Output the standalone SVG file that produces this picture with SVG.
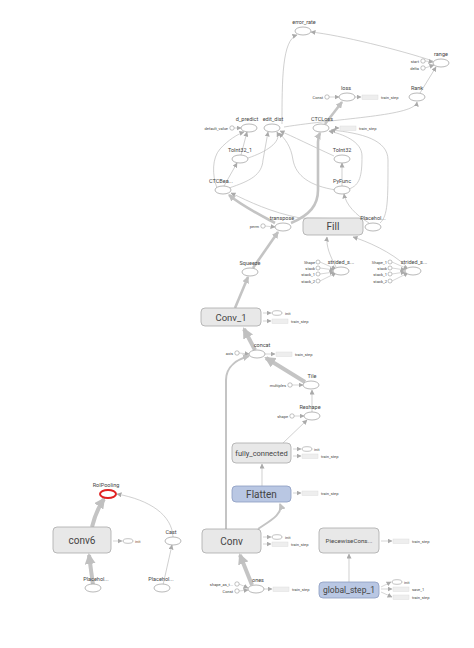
<svg xmlns="http://www.w3.org/2000/svg" width="474" height="648" viewBox="0 0 474 648">
<defs>
<marker id="a" markerUnits="userSpaceOnUse" markerWidth="5" markerHeight="5" refX="4.5" refY="2.5" orient="auto"><path d="M0,0 L5,2.5 L0,5 Z" fill="#aaa"/></marker>
<marker id="aT" markerUnits="userSpaceOnUse" markerWidth="11" markerHeight="11" refX="9" refY="5.5" orient="auto"><path d="M0,0 L11,5.5 L0,11 Z" fill="#c0c0c0"/></marker>
<marker id="aM" markerUnits="userSpaceOnUse" markerWidth="7" markerHeight="7" refX="6" refY="3.5" orient="auto"><path d="M0,0 L7,3.5 L0,7 Z" fill="#c0c0c0"/></marker>
</defs>
<style>
text{font-family:Roboto,"Liberation Sans",sans-serif;fill:#444}
.l{font-size:5.5px;text-anchor:middle}
.s{font-size:4px}
.sr{font-size:4px;text-anchor:end}
.b{text-anchor:middle;dominant-baseline:central}
.op{fill:#fff;stroke:#999;stroke-width:0.7}
.c{fill:#fff;stroke:#999;stroke-width:0.6}
.box{fill:#e8e8e8;stroke:#aaa;stroke-width:0.8}
.blue{fill:#b9c7e3;stroke:#8c9cc0;stroke-width:0.8}
.ts{fill:#eee;stroke:#ddd;stroke-width:0.5}
.e{fill:none;stroke:#bbb;stroke-width:0.7;marker-end:url(#a)}
.m{fill:none;stroke:#c4c4c4;stroke-width:2;marker-end:url(#aM)}
.t{fill:none;stroke:#c4c4c4;stroke-width:2.6;marker-end:url(#aM)}
.T{fill:none;stroke:#c4c4c4;stroke-width:4;marker-end:url(#aT)}
.x{fill:none;stroke:#bbb;stroke-width:0.6;marker-end:url(#a)}
</style>
<rect width="474" height="648" fill="#fff"/>

<g id="connectors">
<path class="e" d="M433,61 C400,50 340,35 311,32"/>
<path class="e" d="M282,124 C282,80 282,40 297,35"/>
<path class="e" d="M420,93 L436,67"/>
<path class="e" d="M284,127 C340,118 415,116 417,102"/>
<path class="x" d="M425,61 L433,62"/>
<path class="x" d="M425,68 L434,65"/>
<path class="x" d="M329,97 L339,97"/>
<path class="x" d="M355,97 L361,97"/>
<path class="x" d="M234,128 L241,128"/>
<path class="x" d="M335,128 L339,128"/>
<path class="e" d="M241,155 L247,132"/>
<path class="e" d="M224,186 L237,163"/>
<path class="e" d="M217,188 C212,175 212,158 220,149 C228,140 238,134 244,132"/>
<path class="e" d="M229,188 C250,181 262,175 263,160 L268,132"/>
<path class="e" d="M248,158 C266,152 282,142 277,132"/>
<path class="e" d="M334,156 C312,146 292,136 280,131"/>
<path class="e" d="M336,190 C310,186 296,176 293,160 C291,146 285,139 279,133"/>
<path class="e" d="M342,186 L342,163"/>
<path class="e" d="M349,189 C360,185 362,176 362,156 C362,141 342,134 329,131"/>
<path class="e" d="M380,223 C388,216 388,200 388,160 C388,140 362,133 331,130"/>
<path class="e" d="M369,223 C356,215 346,205 344,194"/>
<path class="e" d="M365,219 L300,218 C270,212 250,202 231,193"/>
<path class="e" d="M336,267 C330,256 326,246 327,237"/>
<path class="e" d="M407,267 C392,252 366,241 353,237"/>
<path class="x" d="M265,226 L275,227"/>
<path class="x" d="M320,262 L336,269"/>
<path class="x" d="M320,268 L334,270"/>
<path class="x" d="M320,274 L334,272"/>
<path class="x" d="M320,281 L336,273"/>
<path class="x" d="M392,262 L408,269"/>
<path class="x" d="M392,268 L405,270"/>
<path class="x" d="M392,274 L405,272"/>
<path class="x" d="M392,281 L408,273"/>
<path class="x" d="M263,313 L271,313"/>
<path class="x" d="M263,321 L271,321"/>
<path class="x" d="M239,353 L249,354"/>
<path class="x" d="M265,354 L275,354"/>
<path class="x" d="M292,385 L303,385"/>
<path class="x" d="M294,416 L304,416"/>
<path class="x" d="M293,449 L301,449"/>
<path class="x" d="M293,456 L301,456"/>
<path class="x" d="M293,493 L301,493"/>
<path class="x" d="M263,537 L271,537"/>
<path class="x" d="M263,544 L271,544"/>
<path class="x" d="M381,541 L392,541"/>
<path class="x" d="M381,587 L391,582"/>
<path class="x" d="M381,589 L392,589"/>
<path class="x" d="M381,592 L392,597"/>
<path class="x" d="M239,584 L248,588"/>
<path class="x" d="M239,591 L248,590"/>
<path class="x" d="M264,589 L272,589"/>
<path class="x" d="M113,541 L122,541"/>
<path class="e" d="M283,443 L307,420"/>
<path class="e" d="M312,412 L312,390"/>
<path class="e" d="M262,487 L262,464"/>
<path class="e" d="M349,582 L349,554"/>
<path class="e" d="M163,585 L172,545"/>
<path class="e" d="M173,537 C172,515 150,500 117,494"/>
<path class="m" d="M226,529 L226,380 C226,366 238,359 249,356"/>
<path class="m" d="M258,529 C268,522 284,514 280,504"/>
<path class="t" d="M325,124 L342,102"/>
<path class="t" d="M291,223 C310,215 318,205 318,190 L318,142 C318,137 319,135 320,133"/>
<path class="t" d="M275,223 C260,215 242,206 229,195"/>
<path class="t" d="M253,268 L278,232"/>
<path class="t" d="M235,308 L248,277"/>
<path class="T" d="M305,382 L266,358"/>
<path class="T" d="M255,350 L244,329"/>
<path class="T" d="M252,585 L240,555"/>
<path class="T" d="M93,585 L89,555"/>
<path class="T" d="M92,527 C95,515 99,506 104,499"/>
</g>

<g id="error_rate"><ellipse class="op" cx="303" cy="31" rx="8" ry="4"/><text class="l" x="304" y="24">error_rate</text></g>
<g id="range"><ellipse class="op" cx="441" cy="63" rx="8" ry="4"/><text class="l" x="441" y="56">range</text>
<circle class="c" cx="423" cy="61" r="2.2"/><text class="sr" x="419" y="62.5">start</text>
<circle class="c" cx="423" cy="68" r="2.2"/><text class="sr" x="419" y="69.5">delta</text></g>
<g id="Rank"><ellipse class="op" cx="417" cy="97" rx="8" ry="4"/><text class="l" x="417" y="90">Rank</text></g>
<g id="loss"><ellipse class="op" cx="347" cy="97" rx="8" ry="4"/><text class="l" x="346" y="90">loss</text>
<circle class="c" cx="327" cy="97" r="2.2"/><text class="sr" x="323" y="98.5">Const</text>
<rect class="ts" x="362" y="95" width="16" height="4.5"/><text class="s" x="381" y="98.5">train_step</text></g>
<g id="d_predict"><ellipse class="op" cx="249" cy="128" rx="8" ry="4"/><text class="l" x="247" y="121">d_predict</text>
<circle class="c" cx="232" cy="128" r="2.2"/><text class="sr" x="228" y="129.5">default_value</text></g>
<g id="edit_dist"><ellipse class="op" cx="272" cy="128" rx="8" ry="4"/><text class="l" x="273" y="121">edit_dist</text></g>
<g id="CTCLoss"><ellipse class="op" cx="321" cy="128" rx="8" ry="4"/><text class="l" x="322" y="121">CTCLoss</text>
<rect class="ts" x="340" y="126" width="16" height="4.5"/><text class="s" x="359" y="129.5">train_step</text></g>
<g id="ToInt32_1"><ellipse class="op" cx="240" cy="159" rx="8" ry="4"/><text class="l" x="240" y="152">ToInt32_1</text></g>
<g id="ToInt32"><ellipse class="op" cx="342" cy="159" rx="8" ry="4"/><text class="l" x="342" y="152">ToInt32</text></g>
<g id="CTCBeam"><ellipse class="op" cx="223" cy="190" rx="8" ry="4"/><text class="l" x="221" y="183">CTCBea...</text></g>
<g id="PyFunc"><ellipse class="op" cx="342" cy="190" rx="8" ry="4"/><text class="l" x="342" y="183">PyFunc</text></g>
<g id="transpose"><ellipse class="op" cx="283" cy="227" rx="8" ry="4"/><text class="l" x="282" y="220">transpose</text>
<circle class="c" cx="263" cy="226" r="2.2"/><text class="sr" x="259" y="227.5">perm</text></g>
<g id="Fill"><rect class="box" x="303" y="218" width="60" height="17" rx="4"/><text class="b" x="333" y="226.5" style="font-size:10px">Fill</text></g>
<g id="Placeholder_ctc"><ellipse class="op" cx="373" cy="227" rx="8" ry="4"/><text class="l" x="373" y="220">Placehol...</text></g>
<g id="Squeeze"><ellipse class="op" cx="250" cy="272" rx="8" ry="4"/><text class="l" x="250" y="265">Squeeze</text></g>
<g id="strided_slice"><ellipse class="op" cx="341" cy="271" rx="8" ry="4"/><text class="l" x="341" y="264">strided_s...</text>
<circle class="c" cx="318" cy="262" r="2"/><text class="sr" x="315" y="263.5">Shape</text>
<circle class="c" cx="318" cy="268" r="2"/><text class="sr" x="315" y="269.5">stack</text>
<circle class="c" cx="318" cy="274" r="2"/><text class="sr" x="315" y="275.5">stack_1</text>
<circle class="c" cx="318" cy="281" r="2"/><text class="sr" x="315" y="282.5">stack_2</text></g>
<g id="strided_slice_1"><ellipse class="op" cx="413" cy="271" rx="8" ry="4"/><text class="l" x="414" y="264">strided_s...</text>
<circle class="c" cx="390" cy="262" r="2"/><text class="sr" x="387" y="263.5">Shape_1</text>
<circle class="c" cx="390" cy="268" r="2"/><text class="sr" x="387" y="269.5">stack</text>
<circle class="c" cx="390" cy="274" r="2"/><text class="sr" x="387" y="275.5">stack_1</text>
<circle class="c" cx="390" cy="281" r="2"/><text class="sr" x="387" y="282.5">stack_2</text></g>
<g id="Conv_1"><rect class="box" x="201" y="308" width="60" height="18" rx="4"/><text class="b" x="231" y="317" style="font-size:9.5px">Conv_1</text>
<ellipse class="c" cx="277" cy="313" rx="5" ry="2.3"/><text class="s" x="285" y="314.5">init</text>
<rect class="ts" x="272" y="319" width="16" height="4.5"/><text class="s" x="291" y="322.5">train_step</text></g>
<g id="concat"><ellipse class="op" cx="257" cy="354" rx="8" ry="4"/><text class="l" x="262" y="347">concat</text>
<circle class="c" cx="237" cy="353" r="2.2"/><text class="sr" x="233" y="354.5">axis</text>
<rect class="ts" x="276" y="352" width="16" height="4.5"/><text class="s" x="295" y="355.5">train_step</text></g>
<g id="Tile"><ellipse class="op" cx="311" cy="385" rx="8" ry="4"/><text class="l" x="312" y="378">Tile</text>
<circle class="c" cx="290" cy="385" r="2.2"/><text class="sr" x="286" y="386.5">multiples</text></g>
<g id="Reshape"><ellipse class="op" cx="312" cy="416" rx="8" ry="4"/><text class="l" x="310" y="409">Reshape</text>
<circle class="c" cx="292" cy="416" r="2.2"/><text class="sr" x="288" y="417.5">shape</text></g>
<g id="fully_connected"><rect class="box" x="232" y="443" width="59" height="20" rx="4"/><text class="b" x="261.5" y="453" style="font-size:7.5px">fully_connected</text>
<ellipse class="c" cx="307" cy="449" rx="5" ry="2.3"/><text class="s" x="314" y="450.5">init</text>
<rect class="ts" x="302" y="454" width="16" height="4.5"/><text class="s" x="321" y="457.5">train_step</text></g>
<g id="Flatten"><rect class="blue" x="232" y="486" width="59" height="16" rx="4"/><text class="b" x="261.5" y="494.5" style="font-size:10px">Flatten</text>
<rect class="ts" x="302" y="491" width="16" height="4.5"/><text class="s" x="321" y="494.5">train_step</text></g>
<g id="Conv"><rect class="box" x="202" y="529" width="59" height="24" rx="4"/><text class="b" x="231.5" y="541" style="font-size:10px">Conv</text>
<ellipse class="c" cx="277" cy="537" rx="5" ry="2.3"/><text class="s" x="285" y="538.5">init</text>
<rect class="ts" x="272" y="542" width="16" height="4.5"/><text class="s" x="291" y="545.5">train_step</text></g>
<g id="PiecewiseConstant"><rect class="box" x="319" y="528" width="60" height="25" rx="4"/><text class="b" x="349" y="540.5" style="font-size:6.2px">PiecewiseCons...</text>
<rect class="ts" x="393" y="539" width="16" height="4.5"/><text class="s" x="412" y="542.5">train_step</text></g>
<g id="global_step_1"><rect class="blue" x="319" y="582" width="60" height="16" rx="4"/><text class="b" x="349" y="590" style="font-size:8.5px">global_step_1</text>
<ellipse class="c" cx="397" cy="582" rx="5" ry="2.3"/><text class="s" x="404" y="583.5">init</text>
<rect class="ts" x="393" y="587" width="16" height="4.5"/><text class="s" x="412" y="590.5">save_1</text>
<rect class="ts" x="393" y="595" width="16" height="4.5"/><text class="s" x="412" y="598.5">train_step</text></g>
<g id="ones"><ellipse class="op" cx="256" cy="589" rx="8" ry="4"/><text class="l" x="258" y="582">ones</text>
<circle class="c" cx="237" cy="584" r="2.2"/><text class="sr" x="233" y="585.5">shape_as_t...</text>
<circle class="c" cx="237" cy="591" r="2.2"/><text class="sr" x="233" y="592.5">Const</text>
<rect class="ts" x="273" y="587" width="16" height="4.5"/><text class="s" x="292" y="590.5">train_step</text></g>
<g id="RoIPooling"><ellipse cx="108" cy="494" rx="8" ry="4" fill="#fff" stroke="#e02020" stroke-width="2"/><text class="l" x="106" y="487">RoIPooling</text></g>
<g id="conv6"><rect class="box" x="53" y="527" width="58" height="26" rx="4"/><text class="b" x="82" y="540" style="font-size:10px">conv6</text>
<ellipse class="c" cx="128" cy="541" rx="5" ry="2.3"/><text class="s" x="135" y="542.5" style="fill:#7a4a2a">init</text></g>
<g id="Cast"><ellipse class="op" cx="173" cy="541" rx="8" ry="4"/><text class="l" x="171" y="534">Cast</text></g>
<g id="Placeholder_a"><ellipse class="op" cx="93" cy="588" rx="8" ry="4"/><text class="l" x="96" y="581">Placehol...</text></g>
<g id="Placeholder_b"><ellipse class="op" cx="162" cy="588" rx="8" ry="4"/><text class="l" x="161" y="581">Placehol...</text></g>
</svg>
